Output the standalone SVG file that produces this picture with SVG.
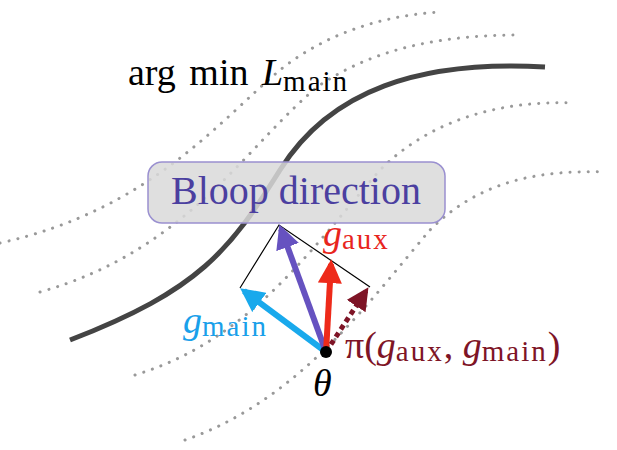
<svg xmlns="http://www.w3.org/2000/svg" width="617" height="450" viewBox="0 0 617 450">
<style>
.dot{fill:none;stroke:#999;stroke-width:3;stroke-dasharray:0.1 9;stroke-linecap:round}
.t{font-family:"Liberation Serif","DejaVu Serif",serif}
.sub{font-size:29px;letter-spacing:2px}
</style>
<defs>
<marker id="hb" viewBox="0 0 10 10" refX="8" refY="5" markerWidth="4" markerHeight="4" orient="auto"><path d="M0,0L10,5L0,10z" fill="#19a9ec"/></marker>
<marker id="hp" viewBox="0 0 10 10" refX="8" refY="5" markerWidth="4" markerHeight="4" orient="auto"><path d="M0,0L10,5L0,10z" fill="#6652c0"/></marker>
<marker id="hr" viewBox="0 0 10 10" refX="8" refY="5" markerWidth="4" markerHeight="4" orient="auto"><path d="M0,0L10,5L0,10z" fill="#ee2a1a"/></marker>
<marker id="hd" viewBox="0 0 10 10" refX="8" refY="5" markerWidth="4.5" markerHeight="4.5" orient="auto"><path d="M0,0L10,5L0,10z" fill="#7e1426"/></marker>
</defs>
<rect width="617" height="450" fill="#fff"/>
<g id="contours">
<path class="dot" d="M0,243 C150,210 220,120 280,70 C330,30 390,15 440,12"/>
<path class="dot" d="M40,292 C190,250 250,140 320,85 C380,45 450,35 520,35"/>
<path class="dot" d="M135,375 C250,340 310,250 380,170 C430,120 500,100 575,103"/>
<path class="dot" d="M185,440 C300,400 370,300 430,230 C480,180 540,170 605,172"/>
</g>
<g id="minimum">
<path d="M70,340 C200,290 230,250 280,170 C330,90 420,60 545,67" fill="none" stroke="#444" stroke-width="5"/>
<text class="t" x="128" y="85" font-size="38" word-spacing="4">arg min <tspan font-style="italic">L</tspan><tspan class="sub" dy="6">main</tspan></text>
</g>
<g id="bloop">
<rect x="148" y="162" width="297" height="61" rx="14" fill="#d9d9d9" fill-opacity="0.85" stroke="#9a90d0" stroke-width="1.5"/>
<text class="t" x="296" y="204" font-size="40" fill="#4b3fa0" text-anchor="middle">Bloop direction</text>
</g>
<g id="connectors">
<polyline points="240,288 279,225 370,287" fill="none" stroke="#000" stroke-width="1.2"/>
<line x1="326" y1="352" x2="244" y2="291" stroke="#19a9ec" stroke-width="6" marker-end="url(#hb)"/>
<line x1="326" y1="352" x2="281" y2="229" stroke="#6652c0" stroke-width="6" marker-end="url(#hp)"/>
<line x1="326" y1="352" x2="331" y2="264" stroke="#ee2a1a" stroke-width="6" marker-end="url(#hr)"/>
<line x1="326" y1="352" x2="366" y2="291" stroke="#7e1426" stroke-width="5" stroke-dasharray="5 4" marker-end="url(#hd)"/>
</g>
<g id="theta">
<circle cx="326" cy="352" r="6" fill="#000"/>
<text class="t" x="313" y="396" font-size="38" font-style="italic">θ</text>
</g>
<text class="t" x="323" y="246" font-size="38" fill="#e8251d"><tspan font-style="italic">g</tspan><tspan class="sub" dy="3">aux</tspan></text>
<text class="t" x="183" y="333" font-size="38" fill="#19a0ea"><tspan font-style="italic">g</tspan><tspan class="sub" dy="3">main</tspan></text>
<text class="t" x="345" y="358" font-size="38" fill="#7e1426">π(<tspan font-style="italic">g</tspan><tspan class="sub" dy="3">aux</tspan><tspan dy="-3">, </tspan><tspan font-style="italic">g</tspan><tspan class="sub" dy="3">main</tspan><tspan dy="-3">)</tspan></text>
</svg>
